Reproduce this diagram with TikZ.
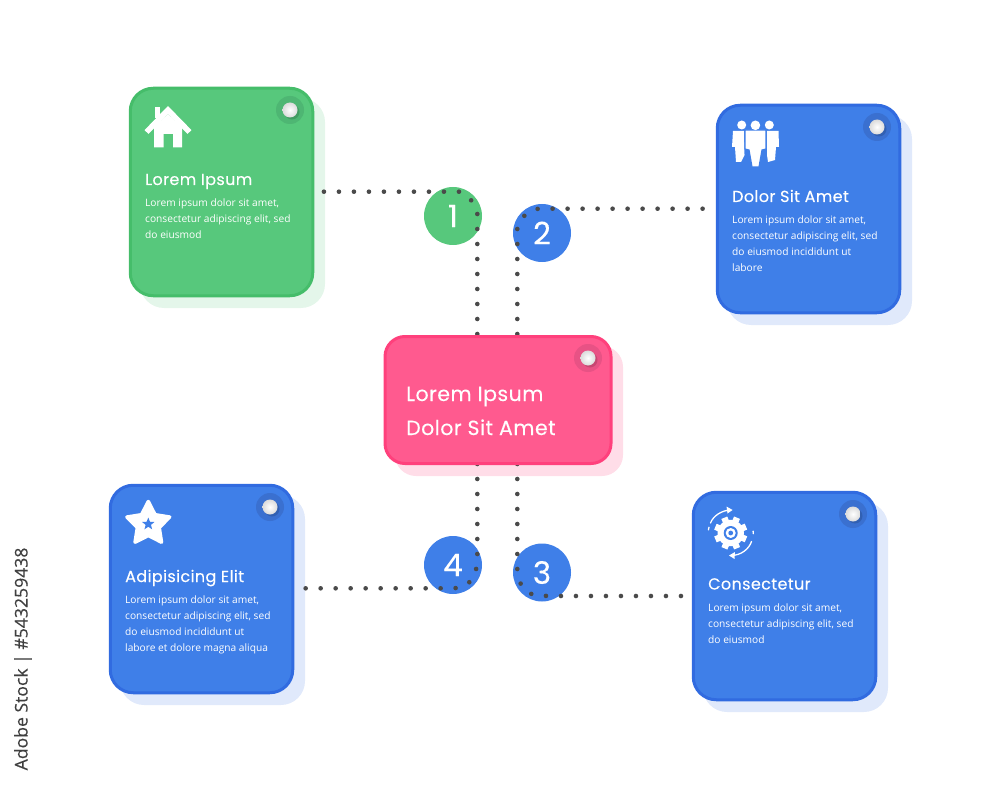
\documentclass[tikz,border=0pt]{standalone}
\usepackage{fontspec}
\setmainfont{Open Sans}
\newfontfamily\titlef[LetterSpace=2.4,FakeBold=0.15]{Poppins}
\newfontfamily\bodyf{Open Sans}
\newfontfamily\sidef[FakeBold=0.3]{Open Sans}
\usetikzlibrary{calc}
\pgfdeclarelayer{back}\pgfdeclarelayer{front}
\pgfsetlayers{back,main,front}
\definecolor{gfill}{HTML}{57C87C}\definecolor{gline}{HTML}{45BD6A}\definecolor{gshade}{HTML}{E4F6EA}\definecolor{ghalo}{HTML}{4EB673}
\definecolor{bfill}{HTML}{3F7FE8}\definecolor{bline}{HTML}{316BE0}\definecolor{bshade}{HTML}{E0E9FB}\definecolor{bhalo}{HTML}{3A70D0}
\definecolor{pfill}{HTML}{FF5A8F}\definecolor{pline}{HTML}{FF407C}\definecolor{pshade}{HTML}{FFDDE8}\definecolor{phalo}{HTML}{E85285}
\definecolor{dotc}{HTML}{4A4A4A}
\tikzset{
  x=1pt,y=-1pt,
  cardbox/.style={rectangle,rounded corners=23pt,line width=3pt,minimum width=182.5pt,minimum height=207.5pt,inner sep=0pt,outer sep=0pt},
  hubbox/.style={cardbox,rounded corners=20pt,minimum width=226pt,minimum height=127pt},
  shade/.style={rectangle,rounded corners=24pt,minimum width=185pt,minimum height=210pt,inner sep=0pt,outer sep=0pt},
  hubshade/.style={shade,rounded corners=21pt,minimum width=228pt,minimum height=130pt},
  pinhalo/.style={circle,minimum size=28pt,inner sep=0pt},
  pinball/.style={circle,shading=radial,inner color=white,outer color=white!86!black,minimum size=15pt,inner sep=0pt},
  numdisc/.style={circle,minimum size=58pt,inner sep=0pt,text=white,font=\titlef\fontsize{31}{31}\selectfont},
  ctitle/.style={anchor=base west,inner sep=0pt,text=white,font=\titlef\fontsize{16}{16}\selectfont},
  cbody/.style={anchor=north west,inner sep=0pt,align=left,text=white,font=\bodyf\fontsize{10.2}{16}\selectfont},
  htitle/.style={anchor=base west,inner sep=0pt,text=white,font=\titlef\fontsize{20.5}{20.5}\selectfont},
  dotline/.style={line width=4.6pt,line cap=round,draw=dotc,dash pattern=on 0pt off 15pt},
  icon/.style={fill=white,draw=none},
}
\newcommand{\cardat}[4]{%
  \begin{pgfonlayer}{back}
    \node[shade,fill=#4shade] (#1s) at (#2+11,#3+11) {};
  \end{pgfonlayer}
  \begin{pgfonlayer}{front}
    \node[cardbox,fill=#4fill,draw=#4line] (#1) at (#2,#3) {};
    \node[pinhalo,fill=#4halo] (#1h) at (#2+68.5,#3-82) {};
    \node[circle,fill=black,opacity=.14,minimum size=15pt,inner sep=0pt] (#1q) at (#2+70.5,#3-80) {};
    \node[pinball] (#1p) at (#2+68.5,#3-82) {};
  \end{pgfonlayer}
}
\begin{document}
\begin{tikzpicture}
\useasboundingbox (0,0) rectangle (1000,786);

\cardat{green}{221.5}{192}{g}
\cardat{btr}{808.5}{209}{b}
\cardat{bbr}{784.5}{596}{b}
\cardat{bbl}{201.5}{589}{b}

% hub
\begin{pgfonlayer}{back}
  \node[hubshade,fill=pshade] (hubs) at (509,411) {};
\end{pgfonlayer}
\begin{pgfonlayer}{front}
  \node[hubbox,fill=pfill,draw=pline] (hub) at (498,400) {};
  \node[pinhalo,fill=phalo] (hubh) at (588,358) {};
  \node[circle,fill=black,opacity=.14,minimum size=15pt,inner sep=0pt] (hubq) at (590,360) {};
  \node[pinball] (hubp) at (588,358) {};
  \node[htitle] (hub1) at (406,401) {Lorem Ipsum};
  \node[htitle] (hub2) at (406,435) {Dolor Sit Amet};
\end{pgfonlayer}

% number discs
\begin{pgfonlayer}{back}
  \node[numdisc,fill=gfill] (n1) at (453,216) {1};
  \node[numdisc,fill=bfill] (n2) at (542,233) {2};
  \node[numdisc,fill=bfill] (n3) at (542,572.5) {3};
  \node[numdisc,fill=bfill] (n4) at (453,565) {4};
\end{pgfonlayer}

% connectors
\coordinate (lx) at (477.3,0);
\coordinate (rx) at (517.3,0);
\draw[dotline] ($(lx |- hub.north)+(0,-2.5)$) -- (477.3,214) -- (471,200) -- (459,191.7) -- ($(green.east)+(10,-.3)$);
\draw[dotline] ($(rx |- hub.north)+(0,-2.5)$) -- (517.3,229) -- (524,216) -- (538,208.7) -- ($(btr.west)+(-12,-.3)$);
\draw[dotline] ($(lx |- hub.south)+(0,.5)$) -- (477.3,555) -- (476,570) -- (469,582.7) -- (455,588.3) -- ($(bbl.east)+(10,-.7)$);
\draw[dotline] ($(rx |- hub.south)+(0,.5)$) -- (517.3,570) -- (521,585) -- (532,594.5) -- (547,596) -- ($(bbr.west)+(-5,0)$);

\begin{pgfonlayer}{front}
% card texts
\node[ctitle] (t1) at (145,185) {Lorem Ipsum};
\node[cbody] (b1) at (145,198.7) {Lorem ipsum dolor sit amet,\\consectetur adipiscing elit, sed\\do eiusmod};
\node[ctitle] (t2) at (732,202) {Dolor Sit Amet};
\node[cbody] (b2) at (732,215.7) {Lorem ipsum dolor sit amet,\\consectetur adipiscing elit, sed\\do eiusmod incididunt ut\\labore};
\node[ctitle] (t3) at (708,589.5) {Consectetur};
\node[cbody] (b3) at (708,603.7) {Lorem ipsum dolor sit amet,\\consectetur adipiscing elit, sed\\do eiusmod};
\node[ctitle] (t4) at (125,582) {Adipisicing Elit};
\node[cbody] (b4) at (125,595.7) {Lorem ipsum dolor sit amet,\\consectetur adipiscing elit, sed\\do eiusmod incididunt ut\\labore et dolore magna aliqua};

% house icon
\fill[icon] (154,127) -- (168,114) -- (182,127) -- (182,147.5) -- (173,147.5) -- (173,134) -- (163.5,134) -- (163.5,147.5) -- (154,147.5) -- cycle;
\draw[white,line width=5.5pt] (146.5,132) -- (168,110) -- (189.5,132);
\fill[icon] (155,107) rectangle (160,118);

% people icon
\fill[icon] (741.7,125) circle (4.5) (769.3,125) circle (4.5);
\fill[icon] (733,131) -- (744,131) -- (744.5,155) -- (741,162) -- (736,162) -- (735,147) -- (732,147) -- cycle;
\fill[icon] (767,131) -- (778.5,131) -- (779,147) -- (776,147) -- (775,160) -- (768,162) -- (767,155) -- cycle;
\draw[bfill,line width=1.2pt,fill=white] (745,130) -- (766,130) -- (766,149) -- (762,150) -- (759,167) -- (752,167) -- (749,150) -- (745,149) -- cycle;
\fill[icon] (755.4,125.3) circle (4.8);

% star icon
\coordinate (sc) at (148.3,524);
\draw[fill=white,draw=white,line width=3.5pt,line join=round]
  ($(sc)+(-90:22.5)$) -- ($(sc)+(-54:11.5)$) -- ($(sc)+(-18:22.5)$) -- ($(sc)+(18:11.5)$) -- ($(sc)+(54:22.5)$)
  -- ($(sc)+(90:11.5)$) -- ($(sc)+(126:22.5)$) -- ($(sc)+(162:11.5)$) -- ($(sc)+(198:22.5)$) -- ($(sc)+(234:11.5)$) -- cycle;
\fill[bfill]
  ($(sc)+(-90:6.5)$) -- ($(sc)+(-54:2.8)$) -- ($(sc)+(-18:6.5)$) -- ($(sc)+(18:2.8)$) -- ($(sc)+(54:6.5)$)
  -- ($(sc)+(90:2.8)$) -- ($(sc)+(126:6.5)$) -- ($(sc)+(162:2.8)$) -- ($(sc)+(198:6.5)$) -- ($(sc)+(234:2.8)$) -- cycle;

% gear icon
\coordinate (gc) at (730.7,533);
\foreach \a in {0,45,...,315}{
  \fill[white,rotate around={\a+22.5:(gc)}] ($(gc)+(-3.2,-16.5)$) rectangle ($(gc)+(3.2,0)$);
}
\fill[white] (gc) circle (13.2);
\fill[bfill] (gc) circle (7);
\fill[white] (gc) circle (5);
\fill[bfill] (gc) circle (2.4);
\draw[white,line width=1.3pt,line cap=round] ($(gc)+(195:22.5)$) -- ($(gc)+(188:22.5)$);
\draw[white,line width=1.3pt,line cap=round] ($(gc)+(-5:22.5)$) -- ($(gc)+(2:22.5)$);
\draw[white,line width=1.3pt,line cap=round] (710.5,523) .. controls (713,516) and (722,510) .. (731,510);
\fill[white] (732.5,510) -- (726.5,506.5) -- (727.5,513.5) -- cycle;
\draw[white,line width=1.3pt,line cap=round] (751.5,541.5) .. controls (749,549) and (741,555.5) .. (731,555.5);
\fill[white] (729,555.5) -- (735,552) -- (734.5,559) -- cycle;

% side label
\node[rotate=90,anchor=west,inner sep=0pt,text=black!75,font=\sidef\fontsize{17.6}{18}\selectfont] (side) at (23,770.5) {Adobe Stock | \#543259438};
\end{pgfonlayer}
\end{tikzpicture}
\end{document}
